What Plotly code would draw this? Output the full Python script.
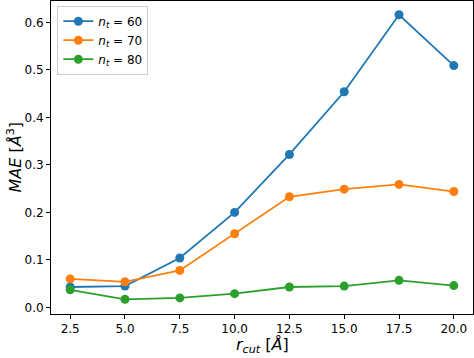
import plotly.graph_objects as go

r_cut = [2.5, 5.0, 7.5, 10.0, 12.5, 15.0, 17.5, 20.0]
mae_nt60 = [0.043, 0.045, 0.104, 0.200, 0.322, 0.454, 0.616, 0.509]
mae_nt70 = [0.060, 0.054, 0.078, 0.155, 0.233, 0.249, 0.259, 0.244]
mae_nt80 = [0.037, 0.017, 0.020, 0.029, 0.043, 0.045, 0.057, 0.046]
series_names = ["<i>n</i><sub><i>t</i></sub> = 60", "<i>n</i><sub><i>t</i></sub> = 70", "<i>n</i><sub><i>t</i></sub> = 80"]
colors = ["#1f77b4", "#ff7f0e", "#2ca02c"]
x_ticks = [2.5, 5.0, 7.5, 10.0, 12.5, 15.0, 17.5, 20.0]
y_ticks = [0.0, 0.1, 0.2, 0.3, 0.4, 0.5, 0.6]
x_title = "<i>r</i><sub><i>cut</i></sub> [<i>Å</i>]"
y_title = "<i>MAE</i> [<i>Å</i><sup>3</sup>]"

fig = go.Figure()
for name, ys, c in zip(series_names, [mae_nt60, mae_nt70, mae_nt80], colors):
    fig.add_trace(go.Scatter(x=r_cut, y=ys, mode="lines+markers", name=name,
                             line=dict(color=c, width=1.8),
                             marker=dict(color=c, size=9)))

axis_common = dict(showline=True, linecolor="black", linewidth=1, mirror=True,
                   ticks="outside", ticklen=4, tickcolor="black", showgrid=False,
                   zeroline=False, automargin=False,
                   tickfont=dict(family="DejaVu Sans", size=12, color="black"))
fig.update_xaxes(range=[1.625, 20.875], tickvals=x_ticks,
                 ticktext=[f"{v:.1f}" for v in x_ticks], **axis_common)
fig.update_yaxes(range=[-0.0138, 0.645], tickvals=y_ticks,
                 ticktext=[f"{v:.1f}" for v in y_ticks], **axis_common)
fig.add_annotation(text=x_title, xref="paper", yref="paper", x=0.5, y=0,
                   xanchor="center", yanchor="top", yshift=-19, showarrow=False,
                   font=dict(family="DejaVu Sans", size=16, color="black"))
fig.add_annotation(text=y_title, xref="paper", yref="paper", x=0, y=0.5,
                   xanchor="center", yanchor="middle", xshift=-36, textangle=-90,
                   showarrow=False, font=dict(family="DejaVu Sans", size=16, color="black"))
fig.update_layout(width=474, height=358, margin=dict(l=51, r=1, t=1, b=44),
                  plot_bgcolor="white", paper_bgcolor="white",
                  font=dict(family="DejaVu Sans", color="black"),
                  legend=dict(x=0.015, y=0.985, xanchor="left", yanchor="top",
                              bgcolor="rgba(255,255,255,0.8)", bordercolor="#cccccc", borderwidth=1,
                              font=dict(family="DejaVu Sans", size=12, color="black"),
                              tracegroupgap=0, itemwidth=30))
fig.write_html("out.html", config={"displayModeBar": False},
               post_script="document.body.style.margin='0';document.body.style.padding='0';")
